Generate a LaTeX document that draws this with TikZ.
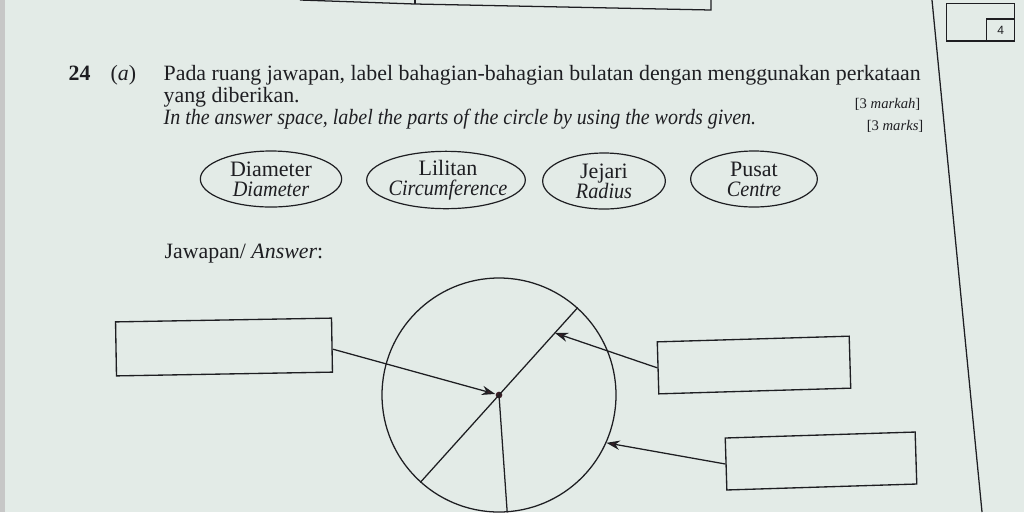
\documentclass[tikz,border=0pt]{standalone}
\usepackage{fontspec}
\setmainfont{Liberation Serif}
\setsansfont{Liberation Sans}
\usetikzlibrary{arrows.meta,shapes.geometric,calc}
\definecolor{paper}{HTML}{E3EBE7}
\definecolor{ink}{HTML}{1E1E22}
\definecolor{tipc}{HTML}{3A1E26}
\newcommand{\condit}[1]{\scalebox{0.92}[1]{\itshape #1}}
\begin{document}
\begin{tikzpicture}[x=0.75pt,y=-0.75pt,
  line width=0.95pt, draw=ink,
  txt/.style={inner sep=0pt, text=ink, font=\fontsize{16.4}{19}\selectfont},
  small/.style={inner sep=0pt, text=ink, font=\fontsize{11}{13}\selectfont},
  wordell/.style={ellipse, draw=ink, line width=0.9pt, inner sep=0pt},
  wordtxt/.style={inner sep=0pt, text=ink, align=center, font=\fontsize{16.5}{15}\selectfont},
  ansbox/.style={rectangle, draw=ink, line width=1pt, inner sep=0pt},
  arr/.style={draw=ink, line width=0.95pt, -{Stealth[length=10pt,width=7pt,fill=tipc]}}]
\useasboundingbox (0,0) rectangle (1024,512);
\fill[paper] (0,0) rectangle (1024,512);
\fill[black!22] (0,0) rectangle (5,512);

% top fragment of previous box
\draw (300,0) -- (415,4) -- (711,10) -- (711,0);
\draw (415,0) -- (415,4);
% margin line
\draw (932,0) -- (982,512);
% marks box
\node[ansbox, minimum width=51pt, minimum height=28pt, anchor=north west] (mb) at (946,3) {};
\node[ansbox, minimum width=21pt, minimum height=16.5pt, anchor=south east] (mbi) at (mb.south east) {};
\node[inner sep=0pt, text=ink, font=\sffamily\fontsize{9}{9}\selectfont] (four) at (mbi.center) {4};

% question text
\node[txt, anchor=base west, font=\bfseries\fontsize{16.4}{19}\selectfont] (qn) at (68,80) {24};
\node[txt, anchor=base west] (qa) at (110,80) {(\textit{a})};
\node[txt, anchor=base west] (l1) at (163,80) {Pada ruang jawapan, label bahagian-bahagian bulatan dengan menggunakan perkataan};
\node[txt, anchor=base west] (l2) at (163,102) {yang diberikan.};
\node[small, anchor=base east] (m1) at (921,108) {[3 \textit{markah}]};
\node[txt, anchor=base west] (l3) at (163,124) {\scalebox{0.914}[1]{\itshape In the answer space, label the parts of the circle by using the words given.}};
\node[small, anchor=base east] (m2) at (924,130) {[3 \textit{marks}]};

% word ellipses
\node[wordell, minimum width=106pt, minimum height=42pt] (e1) at (271,179) {};
\node[wordtxt] (e1t) at (e1.center) {Diameter\\\condit{Diameter}};
\node[wordell, minimum width=119pt, minimum height=43pt] (e2) at (446,180) {};
\node[wordtxt] (e2t) at (448,180) {Lilitan\\\condit{Circumference}};
\node[wordell, minimum width=92pt, minimum height=42pt] (e3) at (604,181) {};
\node[wordtxt] (e3t) at (e3.center) {Jejari\\\condit{Radius}};
\node[wordell, minimum width=95pt, minimum height=42pt] (e4) at (754,179) {};
\node[wordtxt] (e4t) at (e4.center) {Pusat\\\condit{Centre}};

\node[txt, anchor=base west] (ans) at (164,258) {Jawapan/ \textit{Answer}:};

% circle
\node[circle, draw=ink, line width=0.95pt, minimum size=175.5pt, inner sep=0pt] (c) at (499,395) {};
\node[circle, fill=tipc, inner sep=0pt, minimum size=5pt] (o) at (499,395) {};
\draw (c.48) -- (c.228);
\draw (o.center) -- (c.-86.5);
\coordinate (p) at ($(o.center)!0.71!(c.48)$);

% answer boxes
\node[ansbox, minimum width=162pt, minimum height=40.5pt, rotate=1] (lb) at (224,347) {};
\node[ansbox, minimum width=144pt, minimum height=39pt, rotate=1.7] (rb1) at (754,365) {};
\node[ansbox, minimum width=142.5pt, minimum height=39pt, rotate=1.8] (rb2) at (821,461) {};

% arrows
\draw[arr] ([yshift=-3pt]lb.east) -- (o);
\draw[arr] (rb1.west) -- (p);
\draw[arr] (rb2.west) -- (c.-24.5);
\end{tikzpicture}
\end{document}
